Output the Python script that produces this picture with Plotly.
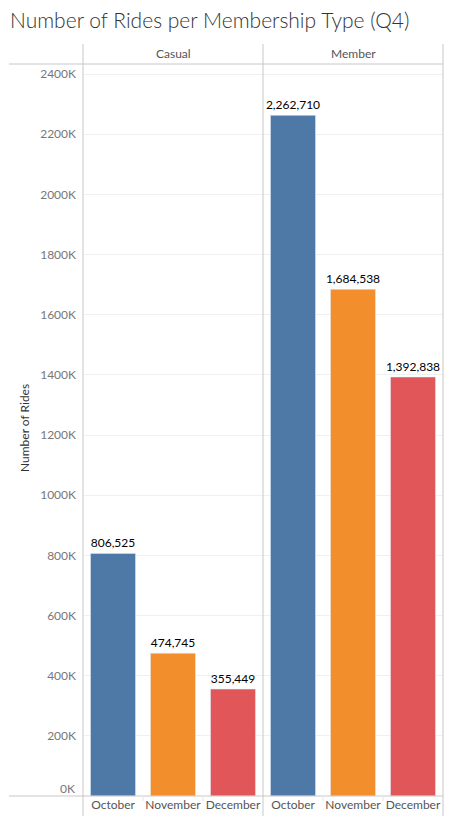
import plotly.graph_objects as go

months = ["October", "November", "December"]
casual = [806525, 474745, 355449]
member = [2262710, 1684538, 1392838]
colors = ["#4e79a7", "#f28e2b", "#e15759"]
tick_vals = [0, 200000, 400000, 600000, 800000, 1000000, 1200000, 1400000,
             1600000, 1800000, 2000000, 2200000, 2400000]
tick_text = ["0K", "200K", "400K", "600K", "800K", "1000K", "1200K", "1400K",
             "1600K", "1800K", "2000K", "2200K", "2400K"]

PAGE_MARGIN = 8  # default body margin of the html page
W, H = 458 - 2 * PAGE_MARGIN, 825 - 2 * PAGE_MARGIN
FONT = "Lato"

def px(x):
    return (x - PAGE_MARGIN) / W

def py(y):
    return 1 - (y - PAGE_MARGIN) / H

fig = go.Figure()
label_font = dict(family=FONT, size=12, color="#000000")
for xa, ya, vals in (("x", "y", casual), ("x2", "y2", member)):
    fig.add_trace(go.Bar(x=months, y=vals, marker_color=colors, xaxis=xa, yaxis=ya,
                         texttemplate="%{y:,}", textposition="outside", textfont=label_font,
                         constraintext="none", cliponaxis=False, showlegend=False))

ydom = [py(796), py(64)]
yrange = [0, 2433500]
xfont = dict(family=FONT, size=12, color="#555555")
tickfont = dict(family=FONT, size=12, color="#777777")
# the bottom label is drawn separately, lifted above the baseline as in the reference
axis_text = [""] + tick_text[1:]
fig.update_layout(
    width=W, height=H, margin=dict(l=0, r=0, t=0, b=0, autoexpand=False),
    paper_bgcolor="white", plot_bgcolor="white",
    bargap=0.25,
    xaxis=dict(domain=[px(83), px(263)], tickfont=xfont, showgrid=False, ticks="",
               showline=False, zeroline=False, automargin=False),
    xaxis2=dict(domain=[px(263), px(443)], tickfont=xfont, showgrid=False, ticks="",
                showline=False, zeroline=False, anchor="y2", automargin=False),
    yaxis=dict(domain=ydom, range=yrange, tickvals=tick_vals, ticktext=axis_text,
               tickfont=tickfont,
               showgrid=True, gridcolor="#f0f0f0", zeroline=False, showline=False,
               ticks="", ticklabelstandoff=6, automargin=False),
    yaxis2=dict(domain=ydom, range=yrange, anchor="x2", matches="y", showticklabels=False,
                tickvals=tick_vals, showgrid=True, gridcolor="#f0f0f0", zeroline=False,
                automargin=False),
    title=dict(text="Number of Rides per Membership Type (Q4)", x=px(10), xanchor="left",
               y=py(21), yanchor="middle",
               font=dict(family=FONT, size=21, color="#333333", weight=300)),
)
fig.add_annotation(text=tick_text[0], xref="paper", yref="y", x=px(77), y=tick_vals[0],
                   xanchor="right", yanchor="middle", yshift=8, showarrow=False,
                   font=tickfont)

line_c = "#c8c8c8"
shapes = []
for x in (83, 263, 443):
    shapes.append(dict(type="line", xref="paper", yref="paper", x0=px(x), x1=px(x),
                       y0=py(44), y1=py(816), line=dict(color=line_c, width=1)))
for y in (64, 796):
    shapes.append(dict(type="line", xref="paper", yref="paper", x0=px(9), x1=px(443),
                       y0=py(y), y1=py(y), line=dict(color=line_c, width=1)))
for x in (143, 203, 323, 383):
    shapes.append(dict(type="line", xref="paper", yref="paper", x0=px(x), x1=px(x),
                       y0=py(796), y1=py(801), line=dict(color="#e6e6e6", width=1)))
fig.update_layout(shapes=shapes)

hfont = dict(family=FONT, size=12, color="#555555")
for name, xc in (("Casual", 173), ("Member", 353)):
    fig.add_annotation(text=name, xref="paper", yref="paper", x=px(xc), y=py(54),
                       xanchor="center", yanchor="middle", showarrow=False, font=hfont)
fig.add_annotation(text="Number of Rides", xref="paper", yref="paper", x=px(24), y=py(428),
                   xanchor="center", yanchor="middle", showarrow=False, textangle=-90,
                   font=dict(family=FONT, size=12, color="#333333"))

fig.write_html("out.html")
